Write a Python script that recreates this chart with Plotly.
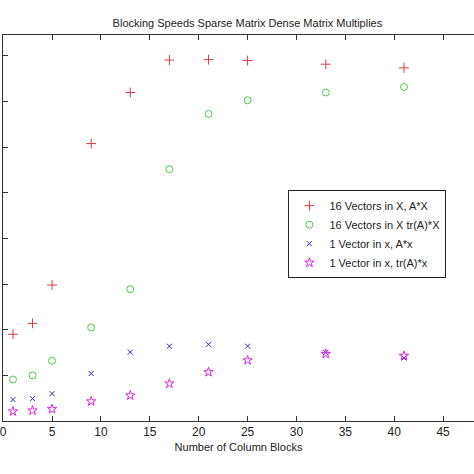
import plotly.graph_objects as go

blocks = [1, 3, 5, 9, 13, 17, 21, 25, 33, 41]
vec16_AX = [1.90, 2.14, 2.98, 6.08, 7.20, 7.91, 7.92, 7.90, 7.82, 7.74]
vec16_trAX = [0.91, 1.00, 1.32, 2.05, 2.89, 5.52, 6.73, 7.03, 7.20, 7.32]
vec1_Ax = [0.47, 0.49, 0.60, 1.04, 1.51, 1.64, 1.68, 1.64, 1.50, 1.38]
vec1_trAx = [0.21, 0.23, 0.26, 0.43, 0.56, 0.82, 1.07, 1.33, 1.47, 1.43]

names = ["16 Vectors in X, A*X", "16 Vectors in X tr(A)*X",
         "1 Vector in x, A*x", "1 Vector in x, tr(A)*x"]
x_ticks = [0, 5, 10, 15, 20, 25, 30, 35, 40, 45]

fig = go.Figure()
styles = [
    (vec16_AX, "cross-thin-open", "#d43a4a", 7),
    (vec16_trAX, "circle-open", "#4ccc4c", 7),
    (vec1_Ax, "x-thin-open", "#2a2ab8", 5),
    (vec1_trAx, "star-open", "#e020e0", 7),
]
for (vals, sym, col, sz), nm in zip(styles, names):
    fig.add_trace(go.Scatter(
        x=blocks, y=vals, mode="markers", name=nm,
        marker=dict(symbol=sym, color=col, size=sz,
                    line=dict(color=col, width=1)),
    ))

font = "Liberation Sans, Arial, Helvetica, sans-serif"
fig.update_layout(
    width=474, height=474,
    margin=dict(l=3, r=0, t=35, b=53),
    paper_bgcolor="white", plot_bgcolor="white",
    font=dict(family=font, size=11, color="#222"),
    title=dict(text="Blocking Speeds Sparse Matrix Dense Matrix Multiplies",
               x=0.522, xanchor="center", y=1 - 23 / 474, yanchor="middle",
               font=dict(size=11, family=font, color="#222")),
    showlegend=True,
    legend=dict(x=0.606, y=0.598, xanchor="left", yanchor="top",
                bgcolor="white", bordercolor="#222", borderwidth=1,
                font=dict(size=11, family=font, color="#222"),
                itemsizing="trace", tracegroupgap=0),
    xaxis=dict(range=[-0.02, 48.16], tickvals=x_ticks, ticks="inside",
               ticklen=5, tickcolor="#333", showline=True, linecolor="#333",
               linewidth=1, mirror="ticks", showgrid=False, zeroline=False,
               ticklabeloverflow="allow",
               tickfont=dict(size=12, family=font, color="#222"),
               title=dict(text="Number of Column Blocks", standoff=4,
                          font=dict(size=11, family=font, color="#222"))),
    yaxis=dict(range=[0, 8.46], dtick=1, ticks="inside", ticklen=5,
               tickcolor="#333", showline=True, linecolor="#333",
               linewidth=1, showgrid=False, zeroline=False,
               showticklabels=False),
)

fig.write_html("out.html")
